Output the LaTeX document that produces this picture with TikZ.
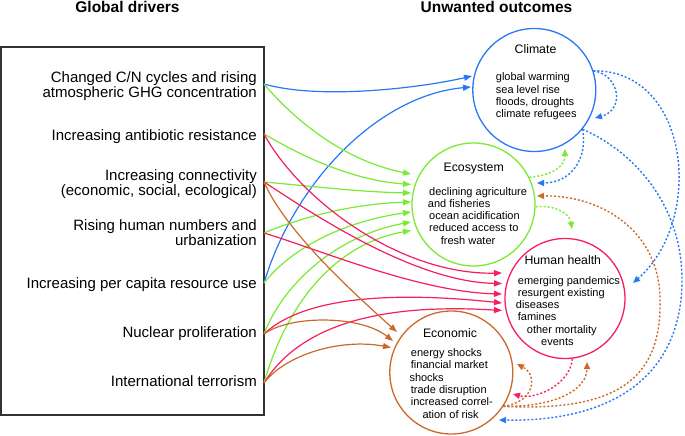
\documentclass[tikz,border=0pt]{standalone}
\usepackage{fontspec}
\setmainfont{Liberation Sans}
\usetikzlibrary{arrows.meta}
\definecolor{cblue}{RGB}{40,120,245}
\definecolor{cgreen}{RGB}{120,235,50}
\definecolor{cred}{RGB}{245,30,95}
\definecolor{corange}{RGB}{205,105,40}
\definecolor{cbox}{RGB}{50,50,50}
\begin{document}
\begin{tikzpicture}[x=1pt,y=-1pt,
  conn/.style={line width=1.2pt,-{Triangle[length=8pt,width=6pt]}},
  fb/.style={line width=1.4pt,dash pattern=on 2pt off 2pt,-{Triangle[length=7pt,width=6pt]}},
  ring/.style={circle,draw,line width=1.3pt,minimum size=123pt,inner sep=0pt},
  drv/.style={anchor=base east,align=right,font=\fontsize{15}{15}\selectfont,inner sep=0pt},
  ttl/.style={font=\fontsize{12.3}{14}\selectfont,anchor=base,inner sep=0pt},
  body/.style={font=\fontsize{11}{12.3}\selectfont,align=left,anchor=base west,inner sep=0pt},
  head/.style={font=\bfseries\fontsize{15.5}{17}\selectfont,anchor=base,inner sep=0pt}
]
\useasboundingbox (0,0) rectangle (685,436);
\fill[white] (0,0) rectangle (685,436);

% headings
\node[head] (hd1) at (127.5,12.5) {Global drivers};
\node[head] (hd2) at (496.5,12.5) {Unwanted outcomes};

% drivers box (base anchor of a multi-line node = baseline of its last line)
\node[draw=cbox,line width=1.3pt,rectangle,minimum width=263pt,minimum height=368pt,inner sep=0pt] (box) at (132.5,231) {};
\node[drv] (t1) at (257,97) {Changed C/N cycles and rising\\atmospheric GHG concentration};
\node[drv] (t2) at (257,140.5) {Increasing antibiotic resistance};
\node[drv] (t3) at (257,195.5) {Increasing connectivity\\(economic, social, ecological)};
\node[drv] (t4) at (257,245.3) {Rising human numbers and\\urbanization};
\node[drv] (t5) at (257,288) {Increasing per capita resource use};
\node[drv] (t6) at (257,337) {Nuclear proliferation};
\node[drv] (t7) at (257,386.7) {International terrorism};

% outcome circles
\node[ring,draw=cblue] (clim) at (534.3,90) {};
\node[ring,draw=cgreen] (eco) at (473.5,204.5) {};
\node[ring,draw=cred,minimum size=120pt] (hh) at (565,298.5) {};
\node[ring,draw=corange] (econ) at (451.3,372.5) {};

\node[ttl] (climT) at (535.5,53.7) {Climate};
\node[body,font=\fontsize{11}{12.4}\selectfont] (climB) at (495.7,117.8) {global warming\\sea level rise\\floods, droughts\\climate refugees};
\node[ttl] (ecoT) at (473.7,171.5) {Ecosystem};
\node[body,font=\fontsize{11}{12.25}\selectfont] (ecoB) at (429,244) {declining agriculture\\\hspace*{-1.3pt}and fisheries\\ocean acidification\\reduced access to\\\hspace*{11.7pt}fresh water};
\node[ttl] (hhT) at (562.8,264.4) {Human health};
\node[body] (hhB) at (517.7,345.5) {emerging pandemics\\resurgent existing\\\hspace*{-2pt}diseases\\famines\\\hspace*{9pt}other mortality\\\hspace*{23.3pt}events};
\node[ttl] (econT) at (450,337.7) {Economic};
\node[body] (econB) at (410.7,418) {energy shocks\\financial market\\\hspace*{-1.4pt}shocks\\trade disruption\\increased correl-\\\hspace*{11.6pt}ation of risk};

% connector end points
\coordinate (dCN) at (264,84);
\coordinate (dAB) at (264,134);
\coordinate (dCO) at (264,182);
\coordinate (dRH) at (264,233);
\coordinate (dPC) at (264,283);
\coordinate (dNP) at (264,334);
\coordinate (dIT) at (264,383);
\coordinate (cl1) at (472,76);
\coordinate (cl2) at (471,87);
\coordinate (e1) at (411,174);
\coordinate (e2) at (411,184.5);
\coordinate (e3) at (411,193);
\coordinate (e4) at (411,202);
\coordinate (e5) at (411,212);
\coordinate (e6) at (411,222);
\coordinate (e7) at (411,230.5);
\coordinate (h1) at (502,273);
\coordinate (h2) at (502,283.5);
\coordinate (h3) at (502,294);
\coordinate (h4) at (502,303);
\coordinate (h5) at (502,310.5);
\coordinate (x1) at (397,332);
\coordinate (x2) at (393,341);
\coordinate (x3) at (391,347.5);

% solid connectors
\draw[conn,cblue] (dCN) .. controls (320,100) and (420,88) .. (cl1);
\draw[conn,cblue] (dPC) .. controls (295,180) and (380,95) .. (cl2);
\draw[conn,cgreen] (dCN) .. controls (290,115) and (340,160) .. (e1);
\draw[conn,cgreen] (dAB) .. controls (300,155) and (350,180) .. (e2);
\draw[conn,cgreen] (dCO) .. controls (310,186) and (360,192) .. (e3);
\draw[conn,cgreen] (dRH) .. controls (300,218) and (350,204) .. (e4);
\draw[conn,cgreen] (dPC) .. controls (290,250) and (340,222) .. (e5);
\draw[conn,cgreen] (dNP) .. controls (285,280) and (340,235) .. (e6);
\draw[conn,cgreen] (dIT) .. controls (285,310) and (330,245) .. (e7);
\draw[conn,cred] (dAB) .. controls (300,200) and (400,275) .. (h1);
\draw[conn,cred] (dCO) .. controls (300,205) and (410,282) .. (h2);
\draw[conn,cred] (dRH) .. controls (320,250) and (420,292) .. (h3);
\draw[conn,cred] (dNP) .. controls (300,300) and (380,290) .. (h4);
\draw[conn,cred] (dIT) .. controls (300,325) and (380,303) .. (h5);
\draw[conn,corange] (dCO) .. controls (285,230) and (350,290) .. (x1);
\draw[conn,corange] (dNP) .. controls (290,315) and (360,315) .. (x2);
\draw[conn,corange] (dIT) .. controls (285,355) and (340,338) .. (x3);

% feedback (dotted) connectors
\coordinate (cAe) at (595,118);
\coordinate (hB) at (633,283);
\coordinate (xC) at (499,420);
\coordinate (eD) at (537,183);
\coordinate (clE) at (565,149);
\coordinate (hF) at (572,229);
\coordinate (eG) at (537,196);
\coordinate (hH) at (587,362);
\coordinate (xI) at (517,364);
\coordinate (xJ) at (513,394);

\draw[fb,cblue] (clim.18) .. controls (620,75) and (625,110) .. (cAe);
\draw[fb,cblue] (clim.18) .. controls (690,70) and (705,220) .. (hB);
\draw[fb,cblue] (clim.-39) .. controls (640,155) and (682,210) .. (682,280) .. controls (682,370) and (620,422) .. (xC);
\draw[fb,cblue] (clim.-39) .. controls (588,160) and (570,183) .. (eD);
\draw[fb,cgreen] (eco.26) .. controls (555,175) and (565,165) .. (clE);
\draw[fb,cgreen] (eco.-2) .. controls (558,205) and (570,215) .. (hF);
\draw[fb,corange] (econ.-33) .. controls (615,412) and (662,380) .. (660,300) .. controls (660,230) and (600,195) .. (eG);
\draw[fb,corange] (econ.-33) .. controls (555,407) and (587,390) .. (hH);
\draw[fb,corange] (econ.-33) .. controls (535,402) and (538,375) .. (xI);
\draw[fb,cred] (hh.-83) .. controls (570,385) and (535,400) .. (xJ);
\end{tikzpicture}
\end{document}
